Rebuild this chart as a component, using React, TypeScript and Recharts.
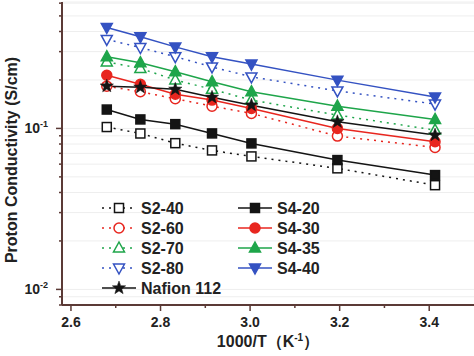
import React from 'react';
import { LineChart, Line, XAxis, YAxis, CartesianGrid } from 'recharts';

// 1000/T values (K^-1)
const invT = [2.68, 2.755, 2.833, 2.915, 3.003, 3.195, 3.413];

// proton conductivity (S/cm)
const s2_40 = [0.102, 0.093, 0.081, 0.073, 0.067, 0.0565, 0.0444];
const s2_60 = [0.183, 0.169, 0.153, 0.1375, 0.124, 0.0896, 0.0762];
const s2_70 = [0.259, 0.236, 0.2, 0.175, 0.15, 0.121, 0.0976];
const s2_80 = [0.357, 0.318, 0.279, 0.241, 0.209, 0.171, 0.1416];
const s4_20 = [0.131, 0.1137, 0.1063, 0.0931, 0.0807, 0.0636, 0.0513];
const s4_30 = [0.214, 0.188, 0.163, 0.15, 0.133, 0.1, 0.0826];
const s4_35 = [0.279, 0.256, 0.225, 0.195, 0.169, 0.1375, 0.1137];
const s4_40 = [0.424, 0.371, 0.321, 0.279, 0.251, 0.1995, 0.157];
const nafion = [0.183, 0.18, 0.175, 0.156, 0.1395, 0.11, 0.0909];

const xTicks = [2.6, 2.7, 2.8, 2.9, 3.0, 3.1, 3.2, 3.3, 3.4];
const xMajor = [2.6, 2.8, 3.0, 3.2, 3.4];
const yTicks = [
  0.008, 0.009, 0.01, 0.02, 0.03, 0.04, 0.05, 0.06, 0.07, 0.08, 0.09,
  0.1, 0.2, 0.3, 0.4, 0.5, 0.6,
];
const yMajor: Record<number, string> = { 0.01: '-2', 0.1: '-1' };

const BLACK = '#141414';
const RED = '#e8261f';
const GREEN = '#1ea54a';
const BLUE = '#3452c2';
const FRAME = '#5b3a36';
const FONT = '"Liberation Sans", Arial, sans-serif';

type Shape = 'square' | 'circle' | 'up' | 'down' | 'star';

const series = [
  { key: 'S2-40', values: s2_40, color: BLACK, shape: 'square' as Shape, filled: false, dotted: true },
  { key: 'S2-60', values: s2_60, color: RED, shape: 'circle' as Shape, filled: false, dotted: true },
  { key: 'S2-70', values: s2_70, color: GREEN, shape: 'up' as Shape, filled: false, dotted: true },
  { key: 'S2-80', values: s2_80, color: BLUE, shape: 'down' as Shape, filled: false, dotted: true },
  { key: 'S4-20', values: s4_20, color: BLACK, shape: 'square' as Shape, filled: true, dotted: false },
  { key: 'S4-30', values: s4_30, color: RED, shape: 'circle' as Shape, filled: true, dotted: false },
  { key: 'S4-35', values: s4_35, color: GREEN, shape: 'up' as Shape, filled: true, dotted: false },
  { key: 'S4-40', values: s4_40, color: BLUE, shape: 'down' as Shape, filled: true, dotted: false },
  { key: 'Nafion 112', values: nafion, color: BLACK, shape: 'star' as Shape, filled: true, dotted: false },
];

const data = invT.map((x, i) => {
  const row: Record<string, number> = { x };
  series.forEach(s => {
    row[s.key] = s.values[i];
  });
  return row;
});

function starPath(cx: number, cy: number, ro: number, ri: number) {
  let d = '';
  for (let i = 0; i < 10; i++) {
    const r = i % 2 === 0 ? ro : ri;
    const a = -Math.PI / 2 + (i * Math.PI) / 5;
    d += (i === 0 ? 'M' : 'L') + (cx + r * Math.cos(a)).toFixed(2) + ',' + (cy + r * Math.sin(a)).toFixed(2);
  }
  return d + 'Z';
}

function Marker({ cx, cy, shape, color, filled }: { cx: number; cy: number; shape: Shape; color: string; filled: boolean }) {
  const fill = filled ? color : '#fff';
  const sw = 1.5;
  switch (shape) {
    case 'square':
      return <rect x={cx - 4.5} y={cy - 4.5} width={9} height={9} fill={fill} stroke={color} strokeWidth={sw} />;
    case 'circle':
      return <circle cx={cx} cy={cy} r={5} fill={fill} stroke={color} strokeWidth={sw} />;
    case 'up':
      return <path d={`M${cx},${cy - 6}L${cx + 5.5},${cy + 4}L${cx - 5.5},${cy + 4}Z`} fill={fill} stroke={color} strokeWidth={sw} />;
    case 'down':
      return <path d={`M${cx},${cy + 6}L${cx + 5.5},${cy - 4}L${cx - 5.5},${cy - 4}Z`} fill={fill} stroke={color} strokeWidth={sw} />;
    default:
      return <path d={starPath(cx, cy, 7, 2.9)} fill={color} stroke={color} strokeWidth={0.5} />;
  }
}

const BottomTick = (props: any) => {
  const { x, y, payload } = props;
  const major = xMajor.includes(payload.value);
  return (
    <g>
      <line x1={x} y1={y} x2={x} y2={y + (major ? 6 : 3)} stroke={FRAME} strokeWidth={1.5} />
      {major && (
        <text x={x} y={y + 22} textAnchor="middle" fontFamily={FONT} fontWeight="bold" fontSize={14} fill="#222">
          {payload.value.toFixed(1)}
        </text>
      )}
    </g>
  );
};

const TopTick = (props: any) => {
  const { x, y, payload } = props;
  const major = xMajor.includes(payload.value);
  return <line x1={x} y1={y} x2={x} y2={y + (major ? 6 : 3)} stroke={FRAME} strokeWidth={1.5} />;
};

const LeftTick = (props: any) => {
  const { x, y, payload } = props;
  const label = yMajor[payload.value];
  return (
    <g>
      <line x1={x - (label ? 6 : 3)} y1={y} x2={x} y2={y} stroke={FRAME} strokeWidth={1.5} />
      {label && (
        <text x={x - 14} y={y + 5} textAnchor="end" fontFamily={FONT} fontWeight="bold" fontSize={14} fill="#222">
          10<tspan dy={-6} fontSize={9}>{label}</tspan>
        </text>
      )}
    </g>
  );
};

const RightTick = (props: any) => {
  const { x, y, payload } = props;
  const major = !!yMajor[payload.value];
  return <line x1={x - (major ? 6 : 3)} y1={y} x2={x} y2={y} stroke={FRAME} strokeWidth={1.5} />;
};

const legendCols = [
  { x: 102, items: ['S2-40', 'S2-60', 'S2-70', 'S2-80', 'Nafion 112'] },
  { x: 238, items: ['S4-20', 'S4-30', 'S4-35', 'S4-40'] },
];

function LegendOverlay() {
  return (
    <svg width={474} height={356} style={{ position: 'absolute', left: 0, top: 0, pointerEvents: 'none' }}>
      {legendCols.map(col =>
        col.items.map((name, i) => {
          const s = series.find(t => t.key === name)!;
          const y = 208 + i * 20;
          return (
            <g key={name}>
              <line
                x1={col.x}
                y1={y}
                x2={col.x + 34}
                y2={y}
                stroke={s.color}
                strokeWidth={1.5}
                strokeDasharray={s.dotted ? '2 5' : undefined}
              />
              <Marker cx={col.x + 17} cy={y} shape={s.shape} color={s.color} filled={s.filled} />
              <text x={col.x + 39} y={y + 6} fontFamily={FONT} fontWeight="bold" fontSize={16} fill="#222">
                {name}
              </text>
            </g>
          );
        })
      )}
      <text
        x={0}
        y={0}
        transform="translate(17,160) rotate(-90)"
        textAnchor="middle"
        fontFamily={FONT}
        fontWeight="bold"
        fontSize={16}
        fill="#222"
      >
        Proton Conductivity (S/cm)
      </text>
      <text x={268} y={347} textAnchor="middle" fontFamily={FONT} fontWeight="bold" fontSize={16} fill="#222">
        1000/T（K<tspan dy={-6} fontSize={10}>-1</tspan><tspan dy={6}>）</tspan>
      </text>
    </svg>
  );
}

export default function App() {
  return (
    <div style={{ position: 'absolute', left: 0, top: 0, width: 474, height: 356, background: '#fff' }}>
      <LineChart width={474} height={356} data={data} margin={{ top: 2, right: 0, bottom: 0, left: 0 }}>
        <CartesianGrid horizontal vertical={false} yAxisId="left" xAxisId="bottom" stroke="#eeeeee" strokeWidth={1} />
        <XAxis
          xAxisId="bottom"
          dataKey="x"
          type="number"
          domain={[2.58, 3.5]}
          ticks={xTicks}
          allowDataOverflow
          height={51}
          tickSize={0}
          tickMargin={0}
          tickLine={false}
          tick={<BottomTick />}
          interval={0}
          axisLine={{ stroke: FRAME, strokeWidth: 2 }}
        />
        <XAxis
          xAxisId="top"
          orientation="top"
          type="number"
          domain={[2.58, 3.5]}
          ticks={xTicks}
          allowDataOverflow
          height={0}
          tickSize={0}
          tickMargin={0}
          tickLine={false}
          tick={<TopTick />}
          interval={0}
          axisLine={{ stroke: FRAME, strokeWidth: 2 }}
        />
        <YAxis
          yAxisId="left"
          scale="log"
          type="number"
          domain={[0.008, 0.61]}
          ticks={yTicks}
          allowDataOverflow
          width={62}
          tickSize={0}
          tickMargin={0}
          tickLine={false}
          tick={<LeftTick />}
          interval={0}
          axisLine={{ stroke: FRAME, strokeWidth: 2 }}
        />
        <YAxis
          yAxisId="right"
          orientation="right"
          scale="log"
          type="number"
          domain={[0.008, 0.61]}
          ticks={yTicks}
          allowDataOverflow
          width={0}
          tickSize={0}
          tickMargin={0}
          tickLine={false}
          tick={<RightTick />}
          interval={0}
          axisLine={{ stroke: FRAME, strokeWidth: 2 }}
        />
        {series.map(s => (
          <Line
            key={s.key}
            xAxisId="bottom"
            yAxisId="left"
            dataKey={s.key}
            type="linear"
            stroke={s.color}
            strokeWidth={1.5}
            strokeDasharray={s.dotted ? '2 5' : undefined}
            isAnimationActive={false}
            dot={(p: any) => (
              <Marker key={`${s.key}-${p.index}`} cx={p.cx} cy={p.cy} shape={s.shape} color={s.color} filled={s.filled} />
            )}
            activeDot={false}
          />
        ))}
      </LineChart>
      <LegendOverlay />
    </div>
  );
}
